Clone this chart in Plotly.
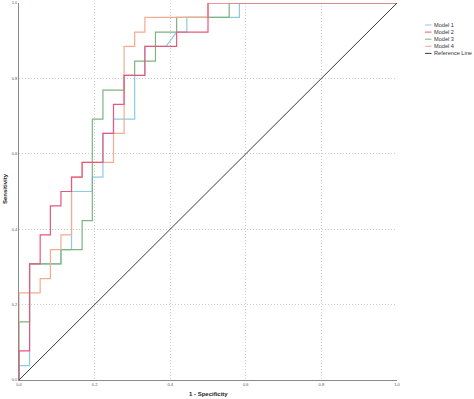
import plotly.graph_objects as go

# ROC step coordinates (1 - specificity, sensitivity)
model1_fpr = [0, 0, .028, .028, .111, .111, .139, .139, .194, .194, .222, .222, .250, .250, .306, .306, .333, .333, .389, .417, .444, .444, .583, .583, 1.0]
model1_tpr = [0, .038, .038, .308, .308, .346, .346, .500, .500, .538, .538, .654, .654, .692, .692, .808, .808, .885, .885, .923, .923, .962, .962, 1.0, 1.0]

model2_fpr = [0, 0, .028, .028, .056, .056, .083, .083, .111, .111, .139, .139, .167, .167, .222, .222, .250, .250, .278, .278, .333, .333, .417, .417, .500, .500, 1.0]
model2_tpr = [0, .077, .077, .308, .308, .385, .385, .462, .462, .500, .500, .538, .538, .577, .577, .654, .654, .731, .731, .808, .808, .885, .885, .923, .923, 1.0, 1.0]

model3_fpr = [0, 0, .028, .028, .111, .111, .167, .167, .194, .194, .222, .222, .278, .278, .306, .306, .361, .361, .417, .417, .556, .556, 1.0]
model3_tpr = [0, .154, .154, .308, .308, .346, .346, .423, .423, .692, .692, .769, .769, .808, .808, .846, .846, .923, .923, .962, .962, 1.0, 1.0]

model4_fpr = [0, 0, .056, .056, .083, .083, .111, .111, .139, .139, .167, .167, .250, .250, .278, .278, .306, .306, .333, .333, .500, .500, 1.0]
model4_tpr = [0, .231, .231, .269, .269, .346, .346, .385, .385, .538, .538, .577, .577, .654, .654, .885, .885, .923, .923, .962, .962, 1.0, 1.0]

ref_x = [0, 1]
ref_y = [0, 1]

series_names = ["Model 1", "Model 2", "Model 3", "Model 4", "Reference Line"]
series_colors = ["#8ccbe4", "#e8587a", "#7db47f", "#f5ab8f", "#3a3a3a"]

tick_vals = [0, 0.2, 0.4, 0.6, 0.8, 1.0]
tick_text = ["0.0", "0.2", "0.4", "0.6", "0.8", "1.0"]

x_title = "1 - Specificity"
y_title = "Sensitivity"

series = {
    "Model 1": (model1_fpr, model1_tpr),
    "Model 2": (model2_fpr, model2_tpr),
    "Model 3": (model3_fpr, model3_tpr),
    "Model 4": (model4_fpr, model4_tpr),
    "Reference Line": (ref_x, ref_y),
}
draw_order = ["Model 1", "Model 3", "Model 4", "Model 2", "Reference Line"]

fig = go.Figure()
for name in draw_order:
    xs, ys = series[name]
    c = series_colors[series_names.index(name)]
    fig.add_trace(go.Scatter(x=xs, y=ys, mode="lines", name=name,
                             line=dict(color=c, width=1.2 if name != "Reference Line" else 1),
                             hoverinfo="skip"))

# plot area in pixels: x 19..397, y 3..380
L, R, T, B = 19, 77, 3, 19
W, H = 474, 399
pw, ph = W - L - R, H - T - B

def px2x(px):
    return (px - L) / pw

def py2y(py):
    return (H - B - py) / ph

# manual compact legend
for k, name in enumerate(series_names):
    yy = py2y(25 + 7.1 * k)
    fig.add_shape(type="line", xref="paper", yref="paper",
                  x0=px2x(425), x1=px2x(431.5), y0=yy, y1=yy,
                  line=dict(color=series_colors[k], width=1))
    fig.add_annotation(xref="paper", yref="paper", x=px2x(432.5), y=yy,
                       text=name, showarrow=False, xanchor="left", yanchor="middle",
                       borderpad=0,
                       font=dict(size=5.6, color="#333333", family="Liberation Sans"))

# axis titles
fig.add_annotation(xref="paper", yref="paper", x=px2x(208), y=py2y(394),
                   text="<b>" + x_title + "</b>", showarrow=False,
                   xanchor="center", yanchor="middle", borderpad=0,
                   font=dict(size=6, color="#222222", family="Liberation Sans"))
fig.add_annotation(xref="paper", yref="paper", x=px2x(5), y=py2y(189),
                   text="<b>" + y_title + "</b>", showarrow=False, textangle=-90,
                   xanchor="center", yanchor="middle", borderpad=0,
                   font=dict(size=6, color="#222222", family="Liberation Sans"))

axis_common = dict(
    range=[0, 1], tickvals=tick_vals, ticktext=tick_text,
    showgrid=True, gridcolor="#cdcdcd", griddash="1px,2px", gridwidth=1,
    showline=True, linecolor="#8a8a8a", linewidth=1, zeroline=False,
    ticks="", tickfont=dict(size=4, color="#555555", family="Liberation Sans"),
    automargin=False, fixedrange=True,
)

fig.update_layout(
    width=W, height=H,
    margin=dict(l=L, r=R, t=T, b=B),
    plot_bgcolor="white", paper_bgcolor="white",
    showlegend=False,
    xaxis=dict(**axis_common),
    yaxis=dict(**axis_common),
)

fig.write_html("out.html", config={"displayModeBar": False},
               post_script="document.body.style.margin='0';document.body.style.padding='0';")
